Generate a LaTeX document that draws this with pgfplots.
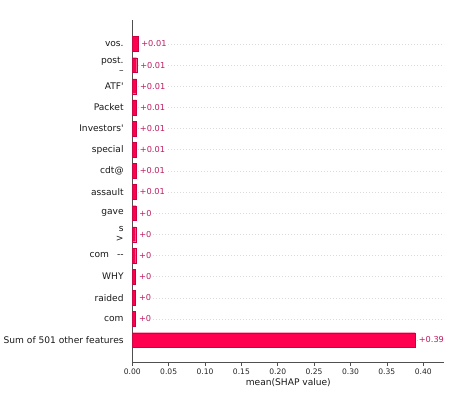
\documentclass[border=0pt]{standalone}
\usepackage{fontspec}
\setmainfont{DejaVu Sans}[Ligatures=TeXOff]
\usepackage{pgfplots}
\pgfplotsset{compat=1.18}
\definecolor{shapred}{RGB}{255,0,81}
\definecolor{shaptxt}{RGB}{190,30,100}
\definecolor{spine}{RGB}{80,80,80}

\begin{document}
\begin{tikzpicture}[x=1pt,y=1pt]
\useasboundingbox (0,0) rectangle (474,400);
\begin{axis}[
    at={(132.3pt,38pt)}, anchor=south west,
    scale only axis, width=312pt, height=342pt,
    xmin=0, xmax=0.429,
    ymin=-1.04, ymax=15.13,
    xbar, bar width=0.7,
    axis x line*=bottom, axis y line*=left,
    axis line style={spine, line width=0.7pt},
    xtick={0,0.05,0.1,0.15,0.2,0.25,0.3,0.35,0.4},
    xticklabel style={font=\fontsize{7.6}{9}\selectfont, text=black!85},
    /pgf/number format/.cd, fixed, fixed zerofill, precision=2, assume math mode=true,
    /pgfplots/.cd,
    xtick align=outside, major tick length=3.5pt,
    xtick style={spine, line width=0.6pt},
    ytick={0,...,14},
    yticklabels={Sum of 501 other features, com, raided, WHY, {com\hspace*{8pt}--},
        {s\\>}, gave, assault, cdt@, special, Investors', Packet, ATF', {post.\\–}, vos.},
    yticklabel style={font=\fontsize{9.1}{10}\selectfont, text=black!90, align=right,
        inner sep=0pt, xshift=-5pt},
    ytick style={draw=none},
    ymajorgrids,
    grid style={black!14, line width=0.4pt, dash pattern=on 0.5pt off 2.5pt},
    xlabel={mean(SHAP value)},
    xlabel style={font=\fontsize{9.1}{10}\selectfont, text=black!90, yshift=3pt},
    point meta=explicit symbolic,
    nodes near coords,
    nodes near coords style={anchor=west, font=\fontsize{8.2}{9}\selectfont,
        text=shaptxt, fill=white, inner xsep=1pt, inner ysep=1pt, xshift=2.5pt},
]
\addplot[fill=shapred, draw=shapred!80!black, line width=0.2pt] coordinates {
    (0.389,0) [+0.39]
    (0.0043,1) [+0]
    (0.0044,2) [+0]
    (0.0045,3) [+0]
    (0.0046,4) [+0]
    (0.0047,5) [+0]
    (0.0048,6) [+0]
    (0.0052,7) [+0.01]
    (0.0053,8) [+0.01]
    (0.0055,9) [+0.01]
    (0.0056,10) [+0.01]
    (0.0057,11) [+0.01]
    (0.0058,12) [+0.01]
    (0.0060,13) [+0.01]
    (0.0075,14) [+0.01]
};
\end{axis}
\end{tikzpicture}
\end{document}
